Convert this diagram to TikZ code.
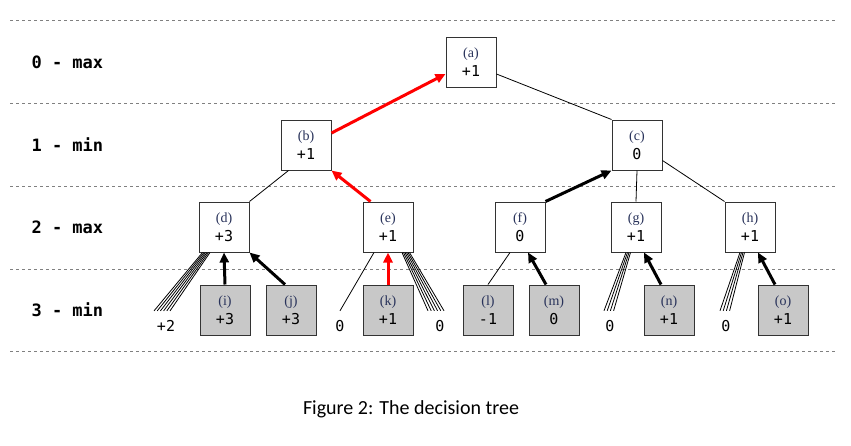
\documentclass[tikz,border=0pt]{standalone}
\usepackage{fontspec}
\setmainfont{Liberation Serif}
\newfontfamily\mono{DejaVu Sans Mono}
\newfontfamily\capf{Carlito}
\usetikzlibrary{arrows.meta,calc}
\definecolor{lbl}{RGB}{40,50,90}
\definecolor{leaf}{RGB}{200,200,200}
\begin{document}
\begin{tikzpicture}[x=1pt,y=-1pt,
 box/.style={draw=black!80,line width=1pt,fill=white,minimum width=50pt,minimum height=50pt,inner sep=0pt,align=center},
 lf/.style={box,fill=leaf},
 edge/.style={black,line width=0.8pt},
 win/.style={-{Triangle[length=10pt,width=9pt]},line width=3pt,black},
 redwin/.style={win,draw=red,color=red},
 sep/.style={dashed,gray,line width=0.8pt},
 lev/.style={anchor=west,font=\mono\bfseries\fontsize{17}{17}\selectfont},
 val/.style={font=\mono\fontsize{15}{15}\selectfont}]
\useasboundingbox (0,0) rectangle (851,445);
\newcommand{\bx}[2]{{\color{lbl}\fontsize{14}{14}\selectfont(#1)}\\[4pt]{\mono\fontsize{15}{15}\selectfont#2}}
\foreach \y in {20,103,186,269,351} \draw[sep] (10,\y) -- (835,\y);
\node[lev] (L0) at (28,62) {0 - max};
\node[lev] (L1) at (28,145) {1 - min};
\node[lev] (L2) at (28,227) {2 - max};
\node[lev] (L3) at (28,310) {3 - min};
\node[box] (a) at (471,62) {\bx{a}{+1}};
\node[box] (b) at (306,145) {\bx{b}{+1}};
\node[box] (c) at (637,145) {\bx{c}{0}};
\node[box] (d) at (224,227) {\bx{d}{+3}};
\node[box] (e) at (388,227) {\bx{e}{+1}};
\node[box] (f) at (520,227) {\bx{f}{0}};
\node[box] (g) at (636,227) {\bx{g}{+1}};
\node[box] (h) at (750,227) {\bx{h}{+1}};
\node[lf] (i) at (225,310) {\bx{i}{+3}};
\node[lf] (j) at (291,310) {\bx{j}{+3}};
\node[lf] (k) at (388,310) {\bx{k}{+1}};
\node[lf] (l) at (488,310) {\bx{l}{-1}};
\node[lf] (m) at (554,310) {\bx{m}{0}};
\node[lf] (n) at (669,310) {\bx{n}{+1}};
\node[lf] (o) at (783,310) {\bx{o}{+1}};
\node[val] (p2) at (166,326) {+2};
\node[val] (e0a) at (340,326) {0};
\node[val] (e0b) at (440,326) {0};
\node[val] (g0) at (610,326) {0};
\node[val] (h0) at (726,326) {0};
% thin edges
\draw[edge] ($(a.east)+(0,12)$) -- (c.north west);
\draw[edge] ($(b.south west)+(8,0)$) -- (d.north east);
\draw[edge] (c.south) -- (g.north);
\draw[edge] ($(c.south east)+(0,-10)$) -- (h.north west);
\draw[edge] ($(f.south)+(-10,0)$) -- (l.north);
\foreach \k in {0,...,5} \draw[edge] ($(d.south west)+(4+1.5*\k,0)$) -- ($(p2.north)+(-12+3.2*\k,-6)$);
\draw[edge] ($(e.south)+(-14,0)$) -- ($(e0a.north)+(0,-6)$);
\foreach \k in {0,...,5} \draw[edge] ($(e.south)+(14+1.5*\k,0)$) -- ($(e0b.north)+(-12+3.2*\k,-6)$);
\foreach \k in {0,...,3} \draw[edge] ($(g.south)+(-10+1.5*\k,0)$) -- ($(g0.north)+(-6+3.2*\k,-6)$);
\foreach \k in {0,...,3} \draw[edge] ($(h.south)+(-10+1.5*\k,0)$) -- ($(h0.north)+(-6+3.2*\k,-6)$);
% winners
\draw[redwin] ($(b.east)+(0,-12)$) -- ($(a.west)+(0,12)$);
\draw[redwin] ($(e.north west)+(8,0)$) -- (b.south east);
\draw[win] (f.north east) -- (c.south west);
\draw[win] (i.north) -- (d.south);
\draw[win] ($(j.north)+(-6,0)$) -- (d.south east);
\draw[redwin] (k.north) -- (e.south);
\draw[win] ($(m.north)+(-8,0)$) -- ($(f.south)+(8,0)$);
\draw[win] ($(n.north)+(-8,0)$) -- ($(g.south)+(8,0)$);
\draw[win] ($(o.north)+(-8,0)$) -- ($(h.south)+(8,0)$);
\node[font=\capf\fontsize{20}{20}\selectfont] (cap) at (411,409) {Figure 2: The decision tree};
\end{tikzpicture}
\end{document}
